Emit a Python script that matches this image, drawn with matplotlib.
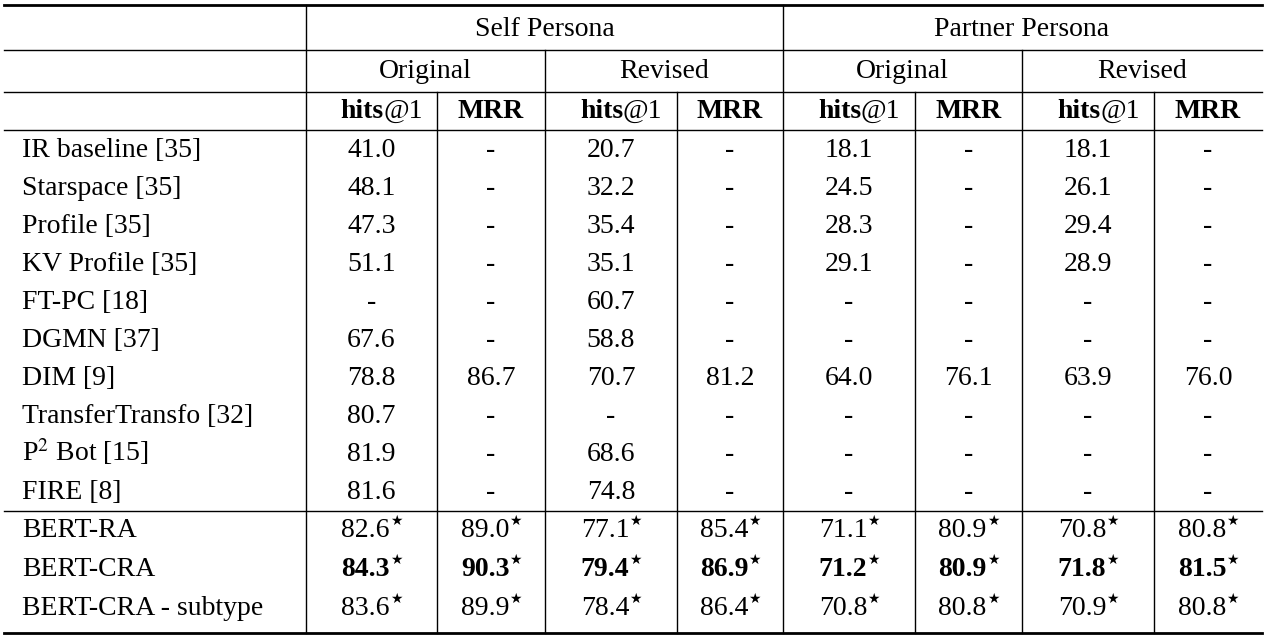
import matplotlib.pyplot as plt

plt.rcParams['font.family'] = ['Liberation Serif', 'DejaVu Sans']
plt.rcParams['mathtext.fontset'] = 'stix'

methods = ['IR baseline [35]', 'Starspace [35]', 'Profile [35]', 'KV Profile [35]',
           'FT-PC [18]', 'DGMN [37]', 'DIM [9]', 'TransferTransfo [32]',
           r'P$^2$ Bot [15]', 'FIRE [8]']
rows = [
    ['41.0', '-', '20.7', '-', '18.1', '-', '18.1', '-'],
    ['48.1', '-', '32.2', '-', '24.5', '-', '26.1', '-'],
    ['47.3', '-', '35.4', '-', '28.3', '-', '29.4', '-'],
    ['51.1', '-', '35.1', '-', '29.1', '-', '28.9', '-'],
    ['-', '-', '60.7', '-', '-', '-', '-', '-'],
    ['67.6', '-', '58.8', '-', '-', '-', '-', '-'],
    ['78.8', '86.7', '70.7', '81.2', '64.0', '76.1', '63.9', '76.0'],
    ['80.7', '-', '-', '-', '-', '-', '-', '-'],
    ['81.9', '-', '68.6', '-', '-', '-', '-', '-'],
    ['81.6', '-', '74.8', '-', '-', '-', '-', '-'],
]
ours = ['BERT-RA', 'BERT-CRA', 'BERT-CRA - subtype']
ours_rows = [
    ['82.6', '89.0', '77.1', '85.4', '71.1', '80.9', '70.8', '80.8'],
    ['84.3', '90.3', '79.4', '86.9', '71.2', '80.9', '71.8', '81.5'],
    ['83.6', '89.9', '78.4', '86.4', '70.8', '80.8', '70.9', '80.8'],
]
bold_row = 1

W, H = 1266, 638
fig = plt.figure(figsize=(W / 100, H / 100), dpi=100)
ax = fig.add_axes([0, 0, 1, 1])
ax.set_xlim(0, W)
ax.set_ylim(H, 0)
ax.axis('off')

xs = [306, 437, 545, 677, 783, 915, 1022, 1154, 1262]
cx = [(xs[i] + xs[i + 1]) / 2 for i in range(8)]
fs = 20
lw = 1.0
off = 7  # baseline offset from row centre

# horizontal rules
ax.plot([4, 1262], [5, 5], color='black', lw=2)
for y in [50, 92, 130]:
    ax.plot([4, 1262], [y, y], color='black', lw=lw)
ax.plot([4, 1262], [511, 511], color='black', lw=lw)
ax.plot([4, 1262], [633, 633], color='black', lw=2)

# vertical rules
for x in [306, 783]:
    ax.plot([x, x], [5, 633], color='black', lw=lw)
for x in [545, 1022]:
    ax.plot([x, x], [50, 633], color='black', lw=lw)
for x in [437, 677, 915, 1154]:
    ax.plot([x, x], [92, 633], color='black', lw=lw)

# headers
ax.text(545, 29 + off, 'Self Persona', ha='center', va='baseline', fontsize=fs)
ax.text(1022, 29 + off, 'Partner Persona', ha='center', va='baseline', fontsize=fs)
for i, lab in enumerate(['Original', 'Revised', 'Original', 'Revised']):
    c = (xs[2 * i] + xs[2 * i + 2]) / 2
    ax.text(c, 71 + off, lab, ha='center', va='baseline', fontsize=fs)
for i in range(8):
    if i % 2 == 0:
        t = ax.text(cx[i] + 12, 111 + off, 'hits', ha='right', va='baseline',
                    fontsize=fs, fontweight='bold')
        ax.annotate('@1', xy=(1, 0), xycoords=t, va='bottom', ha='left', fontsize=fs)
    else:
        ax.text(cx[i], 111 + off, 'MRR', ha='center', va='baseline',
                fontsize=fs, fontweight='bold')

# body
for r, (m, vals) in enumerate(zip(methods, rows)):
    y = 150 + 38 * r + off
    ax.text(22, y, m, ha='left', va='baseline', fontsize=fs)
    for i, v in enumerate(vals):
        ax.text(cx[i], y, v, ha='center', va='baseline', fontsize=fs)

for r, (m, vals) in enumerate(zip(ours, ours_rows)):
    y = 530 + 39 * r + off
    ax.text(22, y, m, ha='left', va='baseline', fontsize=fs)
    for i, v in enumerate(vals):
        t = ax.text(cx[i] - 6, y, v, ha='center', va='baseline', fontsize=fs,
                    fontweight='bold' if r == bold_row else 'normal')
        ax.annotate('★', xy=(1, 0.6), xycoords=t, ha='left', va='bottom',
                    fontsize=10, family='DejaVu Sans')

fig.savefig('out.png', dpi=100)
